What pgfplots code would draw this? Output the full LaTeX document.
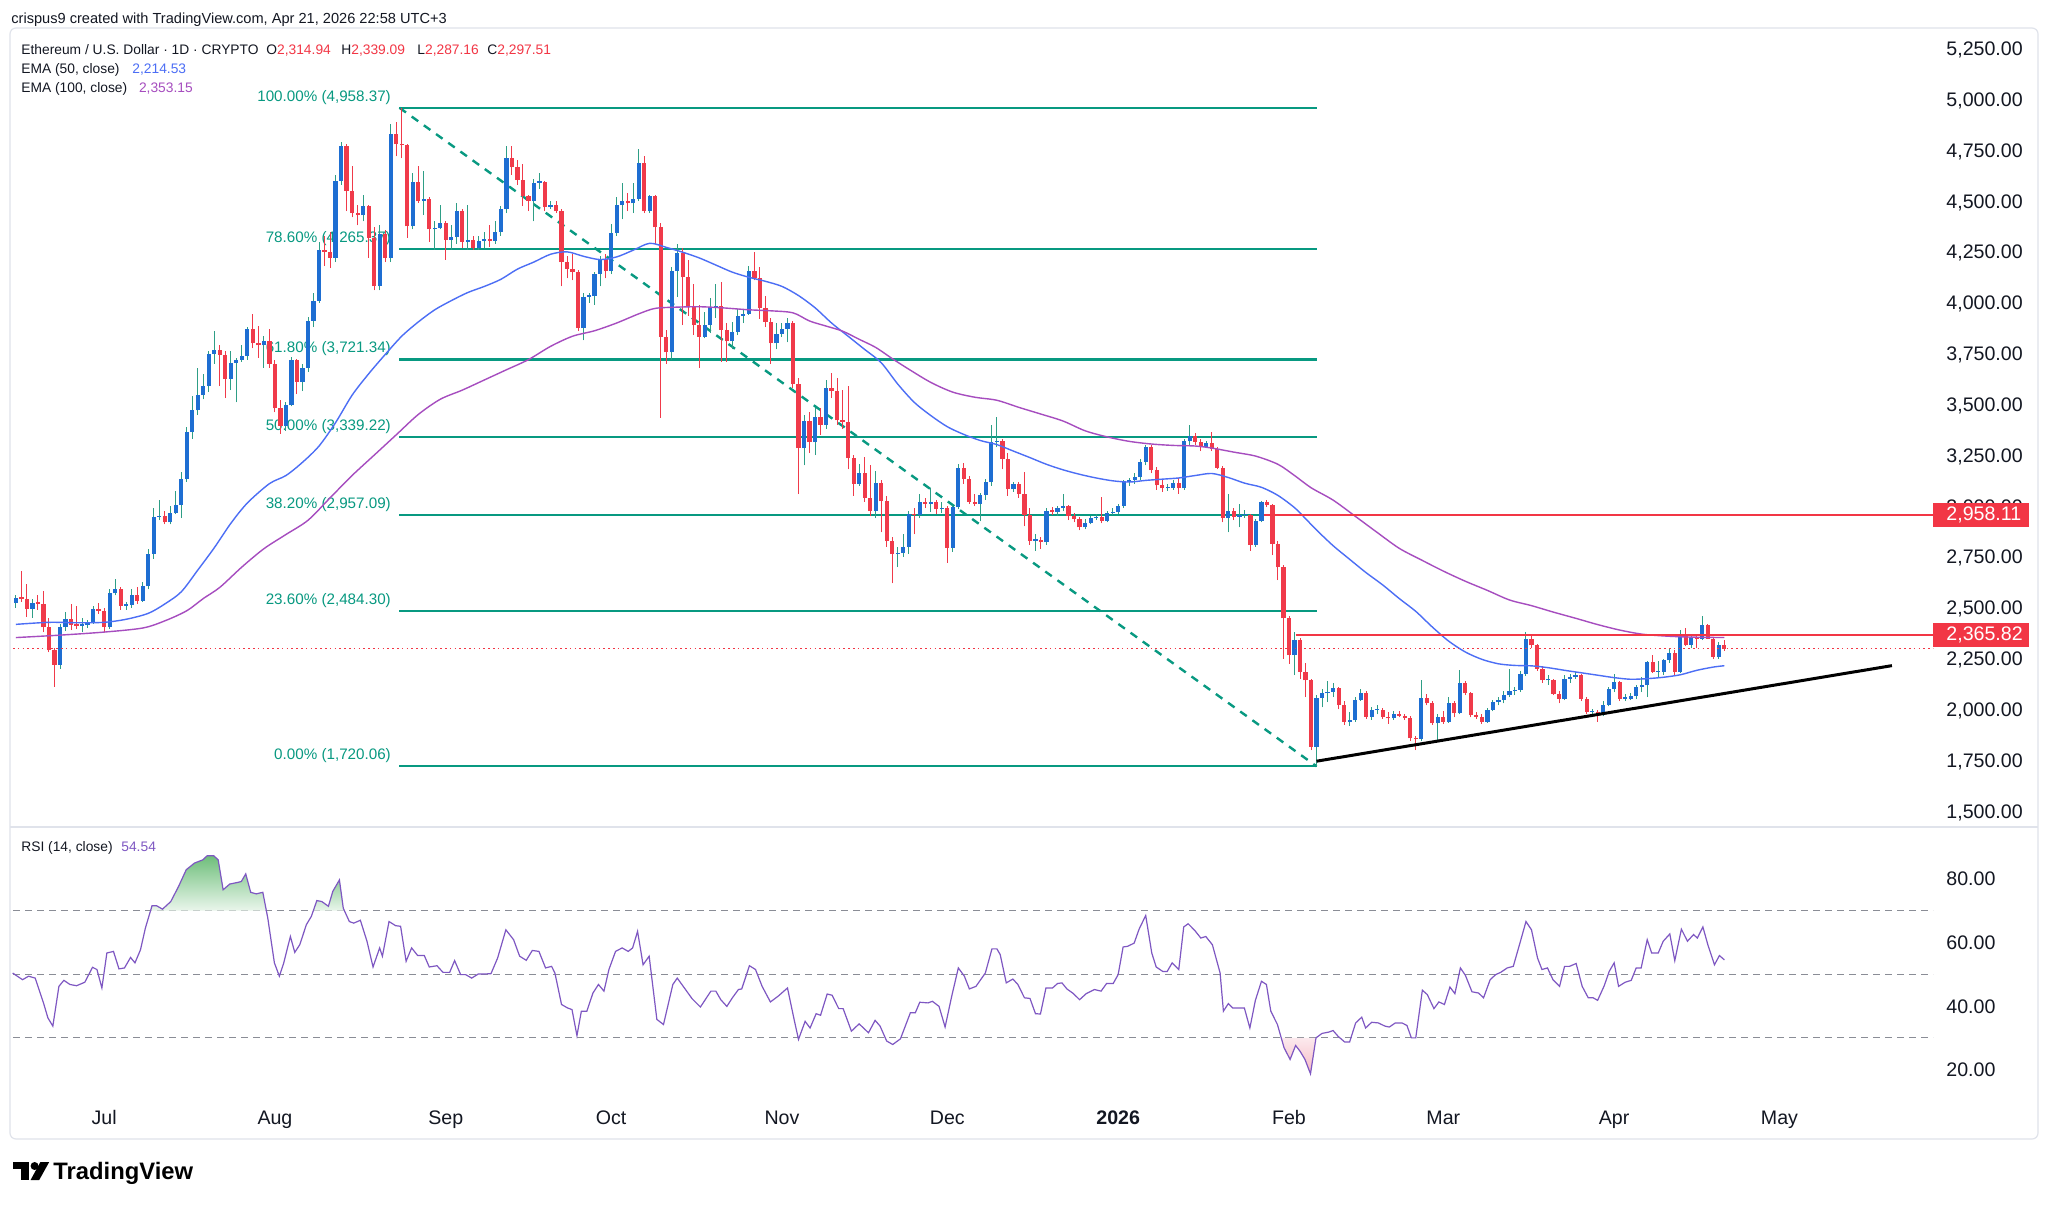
\documentclass[border=0pt]{standalone}
\usepackage{fontspec}
\setmainfont{Liberation Sans}
\usepackage{pgfplots}
\pgfplotsset{compat=1.18}
\usepackage{pgfplotstable}

\definecolor{upbody}{HTML}{1E6ED2}
\definecolor{upwick}{HTML}{2E9E86}
\definecolor{dnbody}{HTML}{F03A4A}
\definecolor{fib}{HTML}{089981}
\definecolor{emaA}{HTML}{4C6EF5}
\definecolor{emaB}{HTML}{A64DBF}
\definecolor{rsi}{HTML}{7E57C2}
\definecolor{tvtext}{HTML}{131722}
\definecolor{tvred}{HTML}{F23645}
\definecolor{tvframe}{HTML}{E0E3EB}
\definecolor{lvl}{HTML}{8A8D96}
\definecolor{gT}{RGB}{110,190,122}
\definecolor{gB}{RGB}{234,246,236}
\definecolor{pT}{RGB}{252,234,238}
\definecolor{pB}{RGB}{246,185,196}

\pgfplotstableread{
x o h l c
-16 2524 2560 2500 2547
-15 2547 2680 2530 2545
-14 2545 2615 2455 2495
-13 2495 2545 2450 2525
-12 2525 2560 2490 2520
-11 2520 2580 2380 2405
-10 2405 2450 2280 2290
-9 2290 2300 2110 2220
-8 2220 2420 2200 2405
-7 2405 2480 2385 2445
-6 2445 2520 2390 2415
-5 2415 2510 2395 2412
-4 2412 2450 2380 2415
-3 2415 2440 2400 2425
-2 2425 2510 2420 2495
-1 2495 2525 2470 2485
0 2485 2500 2380 2405
1 2405 2590 2395 2570
2 2570 2640 2560 2590
3 2590 2600 2490 2510
4 2510 2530 2490 2512
5 2512 2590 2500 2560
6 2560 2600 2520 2535
7 2535 2625 2530 2605
8 2605 2790 2590 2765
9 2765 2990 2740 2945
10 2945 3030 2930 2950
11 2950 2975 2910 2920
12 2920 3000 2910 2965
13 2965 3075 2960 3005
14 3005 3165 2940 3135
15 3135 3390 3120 3365
16 3365 3540 3330 3470
17 3470 3680 3450 3545
18 3545 3650 3525 3590
19 3590 3760 3560 3750
20 3750 3860 3700 3765
21 3765 3790 3590 3745
22 3745 3760 3530 3625
23 3625 3760 3570 3705
24 3705 3730 3510 3720
25 3720 3790 3710 3740
26 3740 3880 3720 3870
27 3870 3945 3775 3800
28 3800 3885 3730 3790
29 3790 3835 3680 3810
30 3810 3870 3680 3700
31 3700 3720 3460 3480
32 3480 3520 3355 3395
33 3395 3510 3370 3495
34 3495 3735 3490 3720
35 3720 3725 3550 3610
36 3610 3700 3565 3680
37 3680 3930 3660 3910
38 3910 4050 3880 4010
39 4010 4300 4000 4260
40 4260 4330 4180 4250
41 4250 4350 4170 4220
42 4220 4630 4200 4600
43 4600 4790 4580 4770
44 4770 4780 4450 4550
45 4550 4670 4420 4440
46 4440 4480 4380 4430
47 4430 4530 4400 4475
48 4475 4480 4220 4320
49 4320 4370 4060 4080
50 4080 4380 4060 4340
51 4340 4355 4200 4220
52 4220 4880 4200 4830
53 4830 4890 4720 4780
54 4780 4956 4710 4775
55 4775 4780 4320 4375
56 4375 4640 4360 4595
57 4595 4670 4490 4500
58 4500 4650 4430 4510
59 4510 4520 4300 4360
60 4360 4400 4260 4368
61 4368 4480 4360 4390
62 4390 4400 4210 4310
63 4310 4380 4260 4325
64 4325 4490 4290 4450
65 4450 4460 4270 4300
66 4300 4480 4260 4310
67 4310 4330 4260 4270
68 4270 4330 4260 4305
69 4305 4350 4270 4310
70 4310 4380 4275 4305
71 4305 4400 4290 4350
72 4350 4475 4330 4460
73 4460 4770 4440 4710
74 4710 4770 4630 4665
75 4665 4700 4580 4605
76 4605 4680 4475 4525
77 4525 4530 4450 4500
78 4500 4610 4400 4590
79 4590 4640 4560 4592
80 4592 4600 4450 4470
81 4470 4500 4460 4478
82 4478 4500 4440 4450
83 4450 4460 4080 4200
84 4200 4230 4120 4168
85 4168 4240 4110 4150
86 4150 4160 3860 3875
87 3875 4050 3815 4030
88 4030 4050 4000 4032
89 4032 4150 3990 4140
90 4140 4230 4080 4215
91 4215 4240 4120 4155
92 4155 4385 4140 4345
93 4345 4520 4330 4480
94 4480 4590 4410 4500
95 4500 4540 4450 4488
96 4488 4590 4440 4510
97 4510 4755 4500 4685
98 4685 4720 4440 4450
99 4450 4530 4440 4525
100 4525 4530 4290 4370
101 4370 4390 3435 3832
102 3832 3865 3700 3755
103 3755 4175 3720 4155
104 4155 4290 4030 4245
105 4245 4270 3890 4125
106 4125 4210 3935 3985
107 3985 4090 3840 3890
108 3890 3990 3680 3832
109 3832 3955 3825 3890
110 3890 4025 3850 3980
111 3980 4090 3925 3982
112 3982 4100 3710 3868
113 3868 3900 3710 3810
114 3810 3905 3770 3858
115 3858 3970 3840 3935
116 3935 3965 3900 3945
117 3945 4180 3940 4158
118 4158 4250 4110 4120
119 4120 4175 3920 3975
120 3975 4035 3880 3905
121 3905 3925 3700 3800
122 3800 3900 3770 3848
123 3848 3900 3830 3872
124 3872 3925 3805 3900
125 3900 3910 3580 3600
126 3600 3630 3058 3285
127 3285 3450 3200 3420
128 3420 3460 3260 3314
129 3314 3480 3250 3436
130 3436 3480 3350 3400
131 3400 3620 3380 3580
132 3580 3655 3530 3565
133 3565 3630 3400 3421
134 3421 3570 3380 3415
135 3415 3590 3180 3236
136 3236 3250 3050 3110
137 3110 3205 3100 3160
138 3160 3240 3020 3040
139 3040 3200 2950 2975
140 2975 3170 2940 3115
141 3115 3130 2870 3023
142 3023 3050 2800 2830
143 2830 2850 2620 2765
144 2765 2800 2700 2768
145 2768 2860 2750 2800
146 2800 2975 2765 2960
147 2960 2990 2860 2955
148 2955 3060 2940 3020
149 3020 3040 2990 3010
150 3010 3090 2970 3022
151 3022 3030 2960 2985
152 2985 3020 2965 2992
153 2992 3000 2720 2795
154 2795 3005 2775 2995
155 2995 3205 2985 3185
156 3185 3210 3110 3135
157 3135 3150 3010 3022
158 3022 3060 3000 3012
159 3012 3065 2925 3055
160 3055 3135 3030 3118
161 3118 3400 3100 3315
162 3315 3440 3290 3320
163 3320 3330 3180 3232
164 3232 3260 3050 3082
165 3082 3120 3070 3110
166 3110 3120 3040 3060
167 3060 3165 2900 2955
168 2955 2990 2810 2830
169 2830 2860 2780 2835
170 2835 2850 2790 2822
171 2822 2990 2810 2975
172 2975 2995 2955 2972
173 2972 3000 2950 2990
174 2990 3060 2975 2998
175 2998 3005 2930 2950
176 2950 2965 2920 2935
177 2935 2945 2880 2895
178 2895 2935 2885 2918
179 2918 2950 2910 2940
180 2940 2960 2930 2945
181 2945 3045 2915 2928
182 2928 2975 2920 2965
183 2965 2990 2955 2972
184 2972 3010 2960 3000
185 3000 3130 2990 3120
186 3120 3140 3100 3130
187 3130 3160 3110 3145
188 3145 3230 3130 3218
189 3218 3300 3200 3292
190 3292 3300 3160 3176
191 3176 3190 3080 3102
192 3102 3130 3070 3087
193 3087 3110 3075 3090
194 3090 3130 3080 3115
195 3115 3140 3060 3087
196 3087 3330 3080 3318
197 3318 3400 3300 3345
198 3345 3360 3300 3315
199 3315 3330 3270 3292
200 3292 3320 3285 3308
201 3308 3365 3270 3280
202 3280 3290 3180 3188
203 3188 3195 2920 2940
204 2940 3060 2870 2975
205 2975 2990 2930 2948
206 2948 3010 2895 2955
207 2955 2980 2940 2956
208 2956 2962 2780 2808
209 2808 2935 2800 2925
210 2925 3025 2920 3020
211 3020 3030 2995 3005
212 3005 3010 2758 2815
213 2815 2830 2635 2698
214 2698 2710 2250 2447
215 2447 2460 2225 2267
216 2267 2380 2168 2340
217 2340 2350 2150 2185
218 2185 2230 2060 2143
219 2143 2150 1800 1815
220 1815 2070 1720 2057
221 2057 2100 2010 2078
222 2078 2140 2035 2087
223 2087 2130 2060 2103
224 2103 2110 2000 2021
225 2021 2040 1925 1939
226 1939 1985 1920 1947
227 1947 2060 1940 2046
228 2046 2100 2040 2078
229 2078 2090 1955 1964
230 1964 2010 1950 1997
231 1997 2020 1975 1997
232 1997 2005 1955 1964
233 1964 1985 1930 1956
234 1956 1990 1950 1976
235 1976 1990 1960 1969
236 1969 1975 1950 1958
237 1958 1965 1845 1857
238 1857 1870 1800 1853
239 1853 2144 1845 2054
240 2054 2075 2020 2029
241 2029 2040 1925 1931
242 1931 1975 1841 1964
243 1964 1990 1930 1939
244 1939 2060 1935 2029
245 2029 2040 1960 1980
246 1980 2193 1975 2128
247 2128 2140 2070 2078
248 2078 2085 1960 1972
249 1972 1985 1955 1964
250 1964 1975 1930 1939
251 1939 2005 1935 1997
252 1997 2045 1990 2035
253 2035 2060 2020 2048
254 2048 2090 2030 2069
255 2069 2200 2060 2091
256 2091 2110 2070 2097
257 2097 2190 2085 2176
258 2176 2381 2165 2348
259 2348 2370 2300 2315
260 2315 2320 2190 2200
261 2200 2215 2130 2143
262 2143 2170 2120 2145
263 2145 2150 2070 2077
264 2077 2090 2030 2053
265 2053 2170 2045 2151
266 2151 2175 2130 2159
267 2159 2185 2150 2168
268 2168 2175 2040 2053
269 2053 2060 1975 1987
270 1987 2000 1960 1987
271 1987 1995 1938 1979
272 1979 2040 1965 2023
273 2023 2110 2015 2102
274 2102 2175 2085 2135
275 2135 2140 2040 2053
276 2053 2075 2040 2053
277 2053 2080 2045 2066
278 2066 2120 2050 2110
279 2110 2160 2085 2118
280 2118 2240 2060 2233
281 2233 2265 2180 2184
282 2184 2240 2160 2184
283 2184 2250 2170 2241
284 2241 2300 2230 2277
285 2277 2290 2170 2184
286 2184 2390 2180 2361
287 2361 2400 2310 2318
288 2318 2370 2300 2356
289 2356 2370 2300 2348
290 2348 2461 2340 2417
291 2417 2420 2345 2348
292 2348 2355 2250 2258
293 2258 2330 2250 2314.94
294 2314.94 2339.09 2287.16 2297.51
}\ohlc

\pgfplotsset{
  tvaxis/.style={
    scale only axis, anchor=south west, width=960pt,
    xmin=-16.53, xmax=331.86,
    axis line style={draw=none}, tick style={draw=none},
    major tick length=0pt, clip=false,
    yticklabel pos=right,
    tick label style={font=\fontsize{9.8}{11}\selectfont, text=tvtext},
    yticklabel style={anchor=base west, xshift=6.5pt, yshift=-3.5pt, inner sep=0pt,
      /pgf/number format/fixed, /pgf/number format/fixed zerofill,
      /pgf/number format/precision=2, /pgf/number format/1000 sep={,},
      /pgf/number format/assume math mode=true},
  },
}
\tikzset{
  fibl/.style={draw=fib, line width=1.2pt},
  fibt/.style={text=fib, anchor=base east, inner sep=0pt, yshift=3.2pt, font=\fontsize{7.6}{9}\selectfont},
}

\begin{document}
\begin{tikzpicture}
\path[use as bounding box] (0,0) rectangle (1024pt,603.5pt);
\fill[white] (0,0) rectangle (1024pt,603.5pt);
\draw[tvframe, line width=0.6pt, rounded corners=3pt] (5pt,34pt) rectangle (1019pt,589.5pt);
\draw[tvframe, line width=0.6pt] (5pt,190pt) -- (1019pt,190pt);

% ---------------- price panel ----------------
\begin{axis}[tvaxis, at={(6.5pt,190pt)}, height=398.5pt,
  ymin=1421.4, ymax=5341, xtick=\empty, ytick={1500,1750,...,5250}]

% fib labels
\node[fibt] at (axis cs:52.1,4958.37) {100.00\% (4,958.37)};
\node[fibt] at (axis cs:52.1,4265.37) {78.60\% (4,265.37)};
\node[fibt] at (axis cs:52.1,3721.34) {61.80\% (3,721.34)};
\node[fibt] at (axis cs:52.1,3339.22) {50.00\% (3,339.22)};
\node[fibt] at (axis cs:52.1,2957.09) {38.20\% (2,957.09)};
\node[fibt] at (axis cs:52.1,2484.30) {23.60\% (2,484.30)};
\node[fibt] at (axis cs:52.1,1720.06) {0.00\% (1,720.06)};
% fib levels
\addplot[fibl] coordinates {(53.6,4958.37) (220,4958.37)};
\addplot[fibl] coordinates {(53.6,4265.37) (220,4265.37)};
\addplot[fibl] coordinates {(53.6,3721.34) (220,3721.34)};
\addplot[fibl] coordinates {(53.6,3339.22) (220,3339.22)};
\addplot[fibl] coordinates {(53.6,2957.09) (220,2957.09)};
\addplot[fibl] coordinates {(53.6,2484.30) (220,2484.30)};
\addplot[fibl] coordinates {(53.6,1720.06) (220,1720.06)};
\addplot[draw=fib, line width=1.2pt, dash pattern=on 4pt off 3.5pt] coordinates {(53.6,4958.37) (220,1720.06)};

% candles: wicks
\addplot[draw=none, mark=none,
  error bars/.cd, y dir=plus, y explicit, error mark=none,
  error bar style={draw=upwick, line width=0.5pt}]
  table[x=x, y expr={(\thisrow{c}>=\thisrow{o}) ? \thisrow{l} : nan},
        y error expr={\thisrow{h}-\thisrow{l}}] {\ohlc};
\addplot[draw=none, mark=none,
  error bars/.cd, y dir=plus, y explicit, error mark=none,
  error bar style={draw=dnbody, line width=0.5pt}]
  table[x=x, y expr={(\thisrow{c}<\thisrow{o}) ? \thisrow{l} : nan},
        y error expr={\thisrow{h}-\thisrow{l}}] {\ohlc};
% candles: bodies
\addplot[draw=none, mark=none,
  error bars/.cd, y dir=plus, y explicit, error mark=none,
  error bar style={draw=upbody, line width=2.1pt}]
  table[x=x, y expr={(\thisrow{c}>=\thisrow{o}) ? \thisrow{o} : nan},
        y error expr={max(\thisrow{c}-\thisrow{o},6)}] {\ohlc};
\addplot[draw=none, mark=none,
  error bars/.cd, y dir=plus, y explicit, error mark=none,
  error bar style={draw=dnbody, line width=2.1pt}]
  table[x=x, y expr={(\thisrow{c}<\thisrow{o}) ? \thisrow{c} : nan},
        y error expr={max(\thisrow{o}-\thisrow{c},6)}] {\ohlc};

% EMA 50
\addplot[emaA, line width=0.7pt, smooth] coordinates {
(-16,2418) (-10,2428) (-5,2426) (0,2428) (4,2443) (8,2472) (11,2518) (14,2578) (17,2685) (20,2795)
(23,2915) (26,3015) (30,3110) (33,3150) (36,3215) (39,3295) (42,3410) (45,3545) (48,3650) (51,3745)
(54,3835) (57,3905) (60,3965) (63,4010) (66,4050) (69,4080) (72,4115) (75,4165) (78,4200) (81,4238)
(84,4250) (87,4228) (90,4212) (93,4225) (96,4258) (99,4292) (102,4272) (105,4248) (108,4220) (111,4185)
(114,4150) (117,4125) (120,4105) (123,4080) (126,4035) (129,3975) (132,3900) (135,3835) (138,3770) (141,3705)
(144,3600) (147,3510) (150,3445) (153,3390) (156,3352) (159,3322) (162,3302) (165,3270) (168,3238) (171,3205)
(174,3178) (177,3156) (180,3138) (183,3124) (186,3118) (189,3126) (192,3132) (195,3138) (198,3150) (201,3160)
(204,3140) (207,3112) (210,3092) (213,3052) (216,2992) (218,2938) (220,2882) (223,2805) (226,2738) (229,2672)
(232,2612) (235,2545) (238,2482) (241,2405) (244,2335) (247,2282) (250,2246) (253,2224) (256,2216) (259,2214)
(262,2205) (265,2192) (268,2180) (271,2168) (274,2156) (277,2148) (280,2151) (283,2158) (286,2170) (289,2192)
(292,2208) (294,2214.53)};
% EMA 100
\addplot[emaB, line width=0.7pt, smooth] coordinates {
(-16,2353) (-8,2365) (0,2380) (7,2400) (11,2435) (15,2485) (18,2545) (21,2600) (25,2700) (29,2790)
(33,2860) (37,2930) (41,3040) (45,3150) (49,3250) (53,3350) (57,3450) (61,3525) (65,3570) (69,3620)
(73,3670) (77,3720) (81,3785) (85,3835) (89,3862) (93,3900) (97,3945) (100,3972) (104,3978) (108,3980)
(112,3975) (117,3965) (121,3960) (125,3950) (128,3910) (131,3885) (134,3860) (137,3820) (140,3780) (143,3725)
(146,3673) (150,3608) (154,3560) (158,3535) (162,3520) (166,3485) (170,3452) (174,3418) (178,3370) (182,3340)
(186,3318) (190,3305) (194,3298) (198,3295) (201,3285) (205,3265) (209,3245) (213,3205) (216,3150) (219,3090)
(223,3029) (227,2950) (231,2870) (235,2792) (239,2735) (243,2680) (247,2630) (251,2585) (255,2538) (259,2510)
(263,2478) (267,2448) (271,2417) (275,2390) (279,2370) (283,2361) (287,2356) (291,2354) (294,2353.15)};

% horizontal red lines, current price, trendline
\addplot[tvred, line width=1pt] coordinates {(210.5,2958.11) (331.86,2958.11)};
\addplot[tvred, line width=0.6pt] coordinates {(216.2,2365.82) (331.86,2365.82)};
\addplot[tvred, line width=0.5pt, dash pattern=on 0.8pt off 1.6pt] coordinates {(-16.53,2297.51) (331.86,2297.51)};
\addplot[black, line width=1.5pt] coordinates {(220,1745) (324.4,2215)};

% price tags
\node[fill=tvred, text=white, anchor=west, inner xsep=0pt, inner ysep=0pt, minimum height=12pt,
  text width=48pt, align=left, font=\fontsize{9.8}{11}\selectfont] at (axis cs:331.86,2958.11) {\hspace*{6.5pt}2,958.11};
\node[fill=tvred, text=white, anchor=west, inner xsep=0pt, inner ysep=0pt, minimum height=12pt,
  text width=48pt, align=left, font=\fontsize{9.8}{11}\selectfont] at (axis cs:331.86,2365.82) {\hspace*{6.5pt}2,365.82};
\end{axis}

% ---------------- RSI panel ----------------
\begin{axis}[tvaxis, at={(6.5pt,51.5pt)}, height=138.5pt,
  ymin=9.18, ymax=96.35, ytick={20,40,60,80},
  xtick={0,31,62,92,123,153,184,215,243,274,304},
  xticklabels={Jul,Aug,Sep,Oct,Nov,Dec,\textbf{2026},Feb,Mar,Apr,May},
  xticklabel style={anchor=base, yshift=-10pt, inner sep=0pt}]
\addplot[lvl, line width=0.5pt, dash pattern=on 3.5pt off 2.5pt] coordinates {(-16.53,70) (331.86,70)};
\addplot[lvl, line width=0.5pt, dash pattern=on 3.5pt off 2.5pt] coordinates {(-16.53,50) (331.86,50)};
\addplot[lvl, line width=0.5pt, dash pattern=on 3.5pt off 2.5pt] coordinates {(-16.53,30) (331.86,30)};
\addplot[draw=none, top color=gT, bottom color=gB] coordinates {
(8.43,70) (8.7,71.6) (9.5,71.6) (10.6,70.5) (12.1,72.9) (13.5,77.6) (14.9,82.9) (16.4,85) (17.9,86)
(18.7,87.3) (19.9,87.3) (20.7,86) (21.6,76.6) (22.8,78.4) (24.2,78.9) (24.9,79.2) (25.7,81.6) (26.6,75.8)
(27.6,75.3) (28.8,75.8) (29.44,70)} -- cycle;
\addplot[draw=none, top color=gT!70!gB, bottom color=gB] coordinates {
(37.96,70) (38.6,73.2) (39.5,72.9) (40.7,71.4) (41.5,76.1) (42.7,79.7) (43.4,70.8) (43.61,70)} -- cycle;
\addplot[draw=none, top color=pT, bottom color=pB] coordinates {
(213.6,30) (214.1,26.9) (215.2,23.2) (216.2,27.6) (217,25.8) (217.9,23.2) (218.9,18.7) (219.9,30)} -- cycle;
\addplot[rsi, line width=0.6pt] coordinates {
(-16.6,50.4) (-14.8,48.3) (-13.7,49.4) (-12.5,48.8) (-11,41) (-10.2,36.3) (-9.3,33.7) (-8.2,46.2) (-7.3,48.1)
(-6.2,46.8) (-5,46.4) (-3.5,47.5) (-2.1,52.2) (-1.3,51.5) (-0.4,45.7) (0.5,56.7) (1.7,57.2) (2.7,51.7)
(3.7,52) (4.8,55.3) (5.6,53.6) (6.6,57.7) (7.5,64.6) (8.7,71.6) (9.5,71.6) (10.6,70.5) (12.1,72.9)
(13.5,77.6) (14.9,82.9) (16.4,85) (17.9,86) (18.7,87.3) (19.9,87.3) (20.7,86) (21.6,76.6) (22.8,78.4)
(24.2,78.9) (24.9,79.2) (25.7,81.6) (26.6,75.8) (27.6,75.3) (28.8,75.8) (29.7,67.7) (30.9,53.6) (31.8,49.4)
(32.6,53.6) (33.8,61.9) (34.6,56.9) (35.5,59.3) (36.7,65.6) (37.6,68.2) (38.6,73.2) (39.5,72.9) (40.7,71.4)
(41.5,76.1) (42.7,79.7) (43.4,70.8) (44.5,66.6) (45.3,66.1) (46.5,67) (47.7,60.4) (48.8,52.3) (50,58.3)
(50.5,55.7) (51.7,66.6) (52.9,65.3) (53.8,65.1) (54.8,54.1) (55.8,58.3) (56.9,55.9) (58.1,55.9) (59,52.3)
(60.4,52.7) (61.5,50.6) (62.7,50.6) (63.6,54.3) (64.7,49.9) (65.6,49.9) (66.7,48.8) (67.9,50.1) (69.1,50.1)
(70.2,50.2) (71.4,55.1) (72.9,64) (74.3,60.9) (75.4,55.7) (76.6,54.4) (77.7,57.5) (78.9,57.2) (80.1,52)
(81.2,52.5) (81.8,50.4) (83,40.5) (84.1,39.4) (84.9,38.9) (85.8,30.7) (86.6,38.4) (87.6,38.4) (88.7,44.1)
(89.7,46.8) (90.7,44.7) (91.6,51.5) (92.8,57.2) (94,58.3) (95.1,57.2) (95.9,58.3) (96.8,63.5) (97.8,53)
(98.9,55.7) (100.3,35.8) (101.5,34.2) (103.2,46.8) (104,48.8) (105.5,45.2) (106.7,42.3) (108.2,39.7) (110.1,44.7)
(111,44.7) (111.9,42) (113,39.9) (114,42.6) (115.1,45.2) (115.7,45.4) (117.1,52.7) (118.2,51.5) (119.4,46.2)
(120.9,41.3) (122.3,43.1) (124,45.7) (125.2,35.8) (126,29.5) (127.2,35.2) (128.1,33.1) (129.2,37.6) (130,37.1)
(131.2,43.8) (132.1,43.4) (133.3,39.2) (134.1,39.2) (135.6,32.1) (137,34.4) (138.7,31.6) (139.9,35.5) (140.8,33.7)
(142,29) (143.1,27.9) (144.5,29.7) (146.3,37.9) (147.2,37.9) (148,41.2) (149.5,41) (150.3,41.5) (151.5,39.9)
(152.6,33.4) (153.8,43.1) (155,52) (156.1,49.4) (157,45.4) (158.2,46.2) (159.9,50.4) (161.1,58) (162,58)
(162.6,56.2) (163.7,47.3) (164.9,48.5) (165.8,46.8) (167,42.6) (168,42.4) (169,37.6) (169.9,37.5) (170.9,45.7)
(172.1,45.7) (173,47.1) (173.8,47.3) (174.7,45.4) (175.9,43.9) (177,42) (178.2,43.9) (179.7,45.2) (180.9,44.7)
(181.9,47.1) (183.1,47.1) (184,49.9) (184.9,58.6) (185.7,58.8) (186.9,59.8) (187.8,64.2) (189,68.5) (190.1,56.7)
(190.9,52.3) (192.1,50.9) (192.9,50.9) (193.8,53.6) (195,51.5) (195.9,64.9) (196.7,65.9) (197.9,63.8) (199,61.4)
(199.9,61.9) (201.1,59.3) (202.5,50.4) (203.1,38.4) (204,40.8) (204.8,39.4) (206,39.4) (206.9,39.4) (207.9,33.1)
(208.9,41.8) (210,47.8) (210.9,46.8) (211.7,38.4) (212.9,34.2) (214.1,26.9) (215.2,23.2) (216.2,27.6) (217,25.8)
(217.9,23.2) (218.9,18.7) (219.9,30) (221,31.4) (222.2,31.8) (223,32.3) (223.9,30.5) (225.1,28.7) (226,28.7)
(227.1,34.7) (228.2,36.5) (228.9,33.1) (230,34.9) (231.2,34.7) (232.4,33.7) (233.2,33.4) (234.3,34.7) (235.5,34.7)
(236.4,33.9) (237.2,30) (238,30) (239.2,45) (240.1,43.6) (241.3,39.2) (242.2,41.3) (243.2,40.5) (244.2,46)
(245.1,43.9) (246.1,52) (247,49.7) (248.2,44.5) (249.4,44.1) (250.3,42.6) (251.5,48.3) (252.5,49.9) (253.4,50.6)
(254.6,52) (255.7,52.5) (256.9,59.8) (258,66.6) (259,64) (260.1,55.1) (260.9,51.5) (261.9,52) (262.9,48.3)
(264.1,46.2) (265,52.5) (265.9,52.5) (267.1,53.4) (268.2,46.2) (269.3,42.6) (270.2,42.6) (271,41.8) (272.2,46.4)
(273.1,50.9) (274,53.6) (274.8,46.2) (276,47.5) (277.1,48.1) (278,52) (278.9,52) (280,60.9) (280.8,56.7)
(282,56.7) (282.9,60.4) (284.1,62.7) (285,54.3) (286.2,64.2) (287.3,60.4) (288.4,62.5) (289.1,61.4) (290.1,64.9)
(291,59.3) (292.2,53) (293.1,55.9) (294,54.54)};
\end{axis}

% ---------------- header / legend texts ----------------
\node[anchor=base west, inner sep=0pt, text=tvtext, font=\fontsize{7.3}{9}\selectfont] at (5.5pt,591.9pt)
  {crispus9 created with TradingView.com, Apr 21, 2026 22:58 UTC+3};
\begin{scope}[every node/.style={anchor=base west, inner sep=0pt, text=tvtext, font=\fontsize{6.9}{8}\selectfont}]
\node at (10.5pt,576pt) {Ethereum / U.S. Dollar · 1D · CRYPTO};
\node at (133pt,576pt) {O\textcolor{tvred}{2,314.94}};
\node at (170.5pt,576pt) {H\textcolor{tvred}{2,339.09}};
\node at (208.5pt,576pt) {L\textcolor{tvred}{2,287.16}};
\node at (243.5pt,576pt) {C\textcolor{tvred}{2,297.51}};
\node at (10.5pt,566.5pt) {EMA (50, close)};
\node at (66pt,566.5pt) {\textcolor{emaA}{2,214.53}};
\node at (10.5pt,557pt) {EMA (100, close)};
\node at (69.3pt,557pt) {\textcolor{emaB}{2,353.15}};
\node at (10.5pt,177.6pt) {RSI (14, close)};
\node at (60.5pt,177.6pt) {\textcolor{rsi}{54.54}};
\end{scope}

% ---------------- TradingView logo ----------------
\fill[black] (6.5pt,22.5pt) rectangle (14.5pt,18.8pt);
\fill[black] (10.6pt,18.8pt) rectangle (14.5pt,13.5pt);
\fill[black] (17.3pt,20.5pt) circle (2.0pt);
\fill[black] (20.2pt,22.5pt) -- (24.6pt,22.5pt) -- (19.6pt,13.5pt) -- (15.3pt,13.5pt) -- cycle;
\node[anchor=base west, inner sep=0pt, text=black, font=\bfseries\fontsize{11.9}{13}\selectfont] at (26.5pt,13.9pt) {TradingView};
\end{tikzpicture}
\end{document}
